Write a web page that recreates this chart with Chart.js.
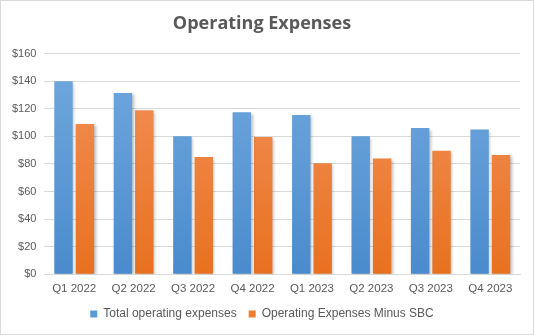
<!DOCTYPE html>
<html><head><meta charset="utf-8">
<script src="https://cdn.jsdelivr.net/npm/chart.js@4.4.1/dist/chart.umd.min.js"></script>
<style>
html,body{margin:0;padding:0;background:#fff;}
#wrap{position:absolute;left:0;top:0;width:532px;height:333px;border:1px solid #d9d9d9;}
</style></head>
<body><div id="wrap"><canvas id="c" width="532" height="333"></canvas></div>
<script>
const categories = ["Q1 2022","Q2 2022","Q3 2022","Q4 2022","Q1 2023","Q2 2023","Q3 2023","Q4 2023"];
const totalOpex = [140, 131.5, 100, 117.5, 115.5, 100, 106, 105];
const opexMinusSBC = [109, 119, 85, 99.5, 80.5, 84, 89.5, 86.5];
const yTicks = [0,20,40,60,80,100,120,140,160];

function grad(c1, c2){
  return (ctx) => {
    const ch = ctx.chart, a = ch.chartArea;
    if(!a) return c1;
    const g = ch.ctx.createLinearGradient(0, a.top, 0, a.bottom);
    g.addColorStop(0, c1); g.addColorStop(1, c2);
    return g;
  };
}
const shadow = {
  id:'shadow',
  beforeDatasetsDraw(chart){ const c=chart.ctx; c.save(); c.shadowColor='rgba(0,0,0,0.28)'; c.shadowBlur=3; c.shadowOffsetX=1.5; c.shadowOffsetY=1.5; },
  afterDatasetsDraw(chart){ chart.ctx.restore(); }
};
new Chart(document.getElementById('c'), {
  type:'bar',
  data:{labels:categories, datasets:[
    {label:'Total operating expenses', data:totalOpex, backgroundColor:grad('#72a9de','#4a8bcd'), categoryPercentage:0.72, barPercentage:0.86},
    {label:'Operating Expenses Minus SBC', data:opexMinusSBC, backgroundColor:grad('#f3925c','#e8711f'), categoryPercentage:0.72, barPercentage:0.86}
  ]},
  plugins:[shadow],
  options:{
    responsive:false, animation:false,
    layout:{padding:{left:3,right:13,top:6,bottom:4}},
    plugins:{
      title:{display:true, text:'Operating Expenses', color:'#595959', font:{family:'Open Sans', size:18, weight:'bold'}, padding:{top:6,bottom:19}},
      legend:{position:'bottom', labels:{color:'#595959', boxWidth:7, boxHeight:7, padding:12, font:{family:'Liberation Sans', size:12},
        generateLabels(chart){ return chart.data.datasets.map((d,i)=>({text:d.label, fillStyle:i?'#ed7d31':'#5b9bd5', strokeStyle:'rgba(0,0,0,0)', lineWidth:0, datasetIndex:i, fontColor:'#595959'})); }}},
      tooltip:{enabled:false}
    },
    scales:{
      x:{grid:{display:false}, border:{color:'#d9d9d9'}, ticks:{color:'#595959', font:{family:'Liberation Sans', size:11.5}, padding:0}},
      y:{min:0,max:160, afterBuildTicks(ax){ax.ticks=yTicks.map(v=>({value:v}));}, grid:{color:'#d9d9d9', drawTicks:false}, border:{display:false},
        ticks:{color:'#595959', padding:8, font:{family:'Liberation Sans', size:11}, callback:v=>'$'+v}}
    }
  }
});
</script></body></html>
